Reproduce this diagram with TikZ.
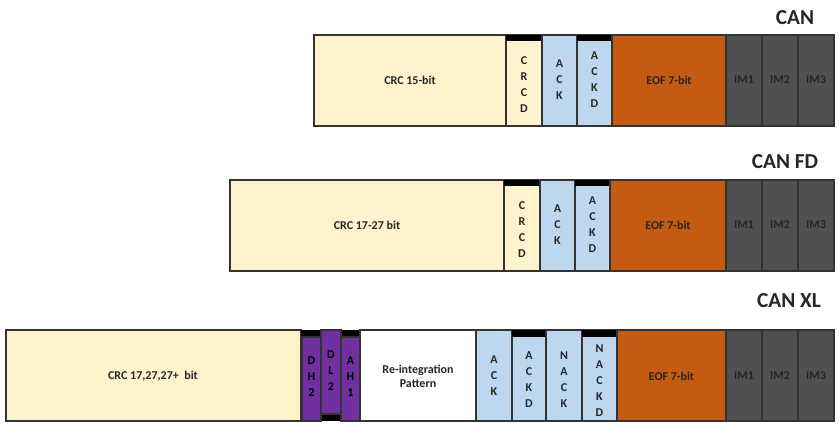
\documentclass[tikz,border=0pt]{standalone}
\usepackage{fontspec}
\setmainfont{Carlito}
\begin{document}
\begin{tikzpicture}[x=0.75pt,y=-0.75pt,
  fld/.style={draw=black!80,line width=0.8pt},
  crc/.style={fld,fill=cream},
  ack/.style={fld,fill=lblue},
  eof/.style={fld,fill=eoforange},
  im/.style={fld,fill=imgray},
  pur/.style={fld,fill=xlpurple},
  bar/.style={fill=black},
  txt/.style={font=\bfseries\fontsize{9}{10.5}\selectfont,align=center,text=black!85},
  vt/.style={font=\bfseries\fontsize{9}{12}\selectfont,align=center,text=black!85},
  ttl/.style={font=\bfseries\fontsize{16}{18}\selectfont,text=black!85}]
\definecolor{cream}{HTML}{FFF2CC}
\definecolor{lblue}{HTML}{BDD7EE}
\definecolor{eoforange}{HTML}{C55A11}
\definecolor{imgray}{HTML}{505050}
\definecolor{xlpurple}{HTML}{7030A0}
\useasboundingbox (0,0) rectangle (839,428);
% CAN
\node[ttl] (t1) at (795,18) {CAN};
\draw[crc] (314,35) rectangle (506,126); \node[txt] (c1) at (410,80) {CRC 15-bit};
\draw[crc] (506,35) rectangle (542,126); \fill[bar] (506,35) rectangle (542,41); \node[vt] (c2) at (524,85) {C\\R\\C\\D};
\draw[ack] (542,35) rectangle (577,126); \node[vt] (c3) at (559.5,80) {A\\C\\K};
\draw[ack] (577,35) rectangle (612,126); \fill[bar] (577,35) rectangle (612,41); \node[vt] (c4) at (594.5,80) {A\\C\\K\\D};
\draw[eof] (612,35) rectangle (726,126); \node[txt] (c5) at (669,80) {EOF 7-bit};
\draw[im] (726,35) rectangle (762,126); \node[txt] (c6) at (744,80) {IM1};
\draw[im] (762,35) rectangle (798,126); \node[txt] (c7) at (780,80) {IM2};
\draw[im] (798,35) rectangle (834,126); \node[txt] (c8) at (816,80) {IM3};
% CAN FD
\node[ttl] (t2) at (785,162) {CAN FD};
\draw[crc] (230,180) rectangle (504,271); \node[txt] (d1) at (367,225) {CRC 17-27 bit};
\draw[crc] (504,180) rectangle (540,271); \fill[bar] (504,180) rectangle (540,186); \node[vt] (d2) at (522,230) {C\\R\\C\\D};
\draw[ack] (540,180) rectangle (575,271); \node[vt] (d3) at (557.5,225) {A\\C\\K};
\draw[ack] (575,180) rectangle (610,271); \fill[bar] (575,180) rectangle (610,186); \node[vt] (d4) at (592.5,225) {A\\C\\K\\D};
\draw[eof] (610,180) rectangle (726,271); \node[txt] (d5) at (668,225) {EOF 7-bit};
\draw[im] (726,180) rectangle (762,271); \node[txt] (d6) at (744,225) {IM1};
\draw[im] (762,180) rectangle (798,271); \node[txt] (d7) at (780,225) {IM2};
\draw[im] (798,180) rectangle (834,271); \node[txt] (d8) at (816,225) {IM3};
% CAN XL
\node[ttl] (t3) at (789,301) {CAN XL};
\draw[crc] (6,330) rectangle (301,421); \node[txt] (x1) at (153,376) {CRC 17,27,27+\ \ bit};
\fill[bar] (301,330) rectangle (360,421);
\draw[pur] (302,337) rectangle (321,421); \node[vt,text=black] (x2) at (311.5,377) {D\\H\\2};
\draw[pur] (321,330) rectangle (341,414); \node[vt,text=black] (x3) at (331,371) {D\\L\\2};
\draw[pur] (341,337) rectangle (360,421); \node[vt,text=black] (x4) at (350.5,377) {A\\H\\1};
\draw[fld,fill=white] (360,330) rectangle (476,421); \node[txt] (x5) at (418,376) {Re-integration\\Pattern};
\draw[ack] (476,330) rectangle (512,421); \node[vt] (x6) at (494,376) {A\\C\\K};
\draw[ack] (512,330) rectangle (546,421); \fill[bar] (512,330) rectangle (546,337); \node[vt] (x7) at (529,380) {A\\C\\K\\D};
\draw[ack] (546,330) rectangle (582,421); \node[vt] (x8) at (564,380) {N\\A\\C\\K};
\draw[ack] (582,330) rectangle (617,421); \fill[bar] (582,330) rectangle (617,337); \node[vt] (x9) at (599.5,381) {N\\A\\C\\K\\D};
\draw[eof] (617,330) rectangle (726,421); \node[txt] (x10) at (671.5,376) {EOF 7-bit};
\draw[im] (726,330) rectangle (762,421); \node[txt] (x11) at (744,376) {IM1};
\draw[im] (762,330) rectangle (798,421); \node[txt] (x12) at (780,376) {IM2};
\draw[im] (798,330) rectangle (834,421); \node[txt] (x13) at (816,376) {IM3};
\end{tikzpicture}
\end{document}
